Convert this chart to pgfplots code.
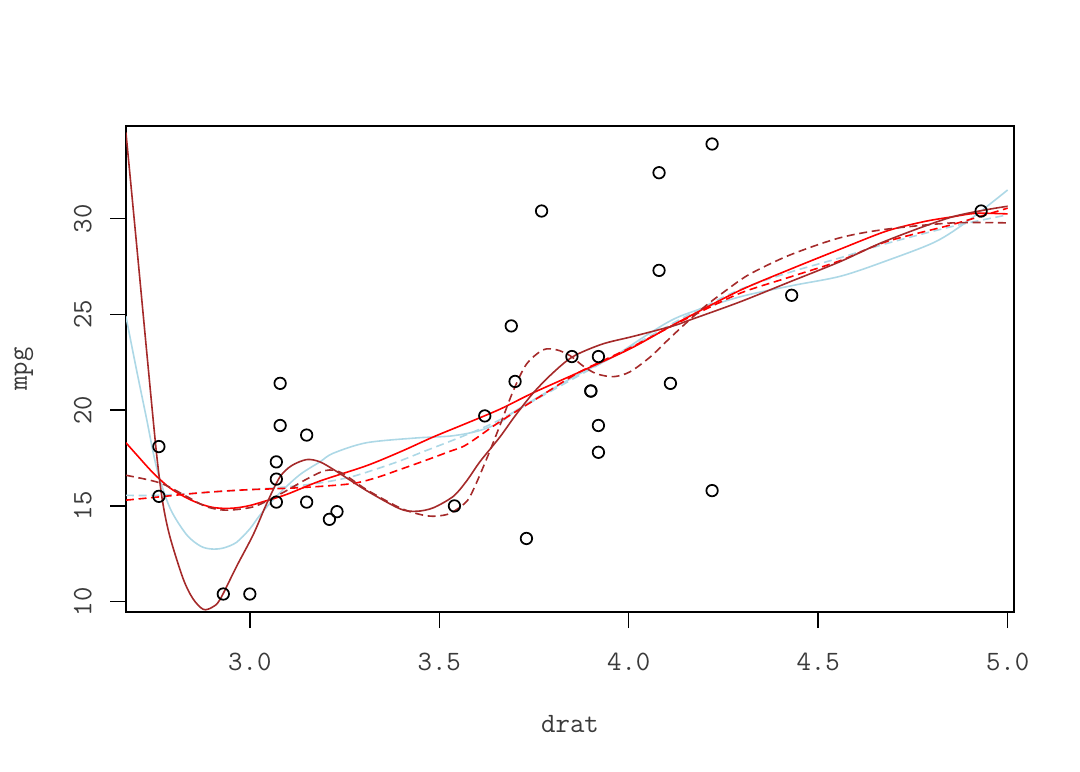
\documentclass[border=0pt]{standalone}
\usepackage{pgfplots}
\pgfplotsset{compat=1.18}
\definecolor{lblue}{HTML}{ADD8E6}
\definecolor{rbrown}{HTML}{A52A2A}
\definecolor{txt}{HTML}{3A3A3A}
\newcommand{\tfont}{\fontsize{21}{25}\selectfont\ttfamily}
\begin{document}
\begin{tikzpicture}
\begin{axis}[name=ax, at={(0,0)}, anchor=south west, scale only axis,
  width=666pt, height=364.5pt,
  xmin=2.6732, xmax=5.0168, ymin=9.46, ymax=34.84,
  axis line style={line width=1.1pt, black},
  xtick={3,3.5,4,4.5,5}, xticklabels={3.0,3.5,4.0,4.5,5.0},
  ytick={10,15,20,25,30}, yticklabels={10,15,20,25,30},
  tick align=outside, major tick length=12pt, tick pos=left,
  tick style={line width=1.1pt, black},
  ticklabel style={font=\tfont, text=txt},
  xticklabel style={anchor=base, yshift=-31.5pt},
  yticklabel style={xshift=-13.9pt, rotate=90, anchor=base},
  clip=true,
  every axis plot/.append style={line width=1.2pt},
]
% light blue solid
\addplot[lblue, smooth] coordinates {(2.673,24.9)(2.70,22.2)(2.727,19.6)(2.754,17.0)(2.789,14.9)(2.833,13.5)(2.87,12.9)(2.899,12.75)(2.93,12.8)(2.965,13.1)(3.0,13.8)(3.026,14.5)(3.07,15.5)(3.13,16.6)(3.185,17.3)(3.22,17.75)(3.308,18.3)(3.44,18.55)(3.53,18.65)(3.6,18.9)(3.66,19.35)(3.70,19.95)(3.78,20.9)(3.87,21.9)(3.96,22.8)(4.05,23.95)(4.135,24.9)(4.29,25.9)(4.43,26.5)(4.56,27.0)(4.68,27.8)(4.81,28.8)(4.90,29.95)(5.0,31.5)};
% light blue dashed
\addplot[lblue, smooth, dash pattern=on 6pt off 3.5pt] coordinates {(2.673,15.55)(2.75,15.55)(2.85,15.65)(2.92,15.75)(3.0,15.85)(3.1,16.0)(3.185,16.2)(3.264,16.5)(3.33,16.9)(3.396,17.35)(3.46,17.85)(3.528,18.37)(3.6,18.95)(3.66,19.5)(3.75,20.5)(3.85,21.6)(3.95,22.7)(4.05,23.8)(4.16,25.0)(4.293,26.3)(4.425,27.2)(4.557,27.95)(4.68,28.7)(4.855,29.6)(5.0,30.2)};
% red solid
\addplot[red, smooth] coordinates {(2.673,18.3)(2.70,17.7)(2.745,16.72)(2.789,15.94)(2.833,15.42)(2.87,15.1)(2.903,14.92)(2.935,14.87)(2.965,14.9)(3.0,15.02)(3.035,15.22)(3.097,15.6)(3.185,16.3)(3.308,17.1)(3.40,17.85)(3.484,18.6)(3.57,19.3)(3.66,20.05)(3.747,20.9)(3.871,22.0)(4.003,23.2)(4.108,24.35)(4.16,24.9)(4.293,26.25)(4.425,27.35)(4.557,28.4)(4.68,29.35)(4.78,29.85)(4.855,30.1)(4.917,30.28)(5.0,30.25)};
% red dashed
\addplot[red, smooth, dash pattern=on 6pt off 3.5pt] coordinates {(2.673,15.3)(2.75,15.45)(2.85,15.65)(2.92,15.76)(3.0,15.85)(3.13,15.95)(3.264,16.15)(3.33,16.45)(3.396,16.9)(3.46,17.35)(3.528,17.85)(3.572,18.2)(3.66,19.4)(3.765,20.7)(3.871,22.0)(4.003,23.25)(4.1,24.25)(4.16,24.85)(4.293,26.1)(4.425,26.95)(4.557,27.8)(4.68,28.8)(4.855,29.7)(5.0,30.55)};
% brown solid
\addplot[rbrown, smooth] coordinates {(2.673,34.5)(2.70,28.9)(2.73,22.6)(2.754,17.7)(2.77,15.2)(2.789,13.4)(2.824,11.2)(2.85,10.15)(2.877,9.6)(2.90,9.7)(2.921,10.1)(2.965,11.84)(3.009,13.5)(3.044,15.1)(3.079,16.5)(3.11,17.1)(3.15,17.42)(3.185,17.3)(3.229,16.8)(3.308,15.8)(3.396,14.85)(3.44,14.72)(3.484,14.9)(3.537,15.5)(3.572,16.3)(3.607,17.3)(3.66,18.6)(3.70,19.7)(3.748,20.9)(3.80,21.95)(3.853,22.8)(3.93,23.45)(4.011,23.85)(4.117,24.4)(4.16,24.7)(4.293,25.65)(4.425,26.7)(4.557,27.75)(4.68,28.85)(4.855,30.1)(5.0,30.65)};
% brown dashed
\addplot[rbrown, smooth, dash pattern=on 6pt off 3.5pt] coordinates {(2.673,16.6)(2.763,16.2)(2.833,15.5)(2.88,15.0)(2.921,14.8)(2.96,14.8)(3.009,14.95)(3.05,15.3)(3.097,15.8)(3.15,16.4)(3.2,16.85)(3.24,16.75)(3.308,15.85)(3.396,14.9)(3.45,14.55)(3.484,14.46)(3.52,14.55)(3.545,14.8)(3.575,15.3)(3.598,16.2)(3.63,17.7)(3.66,19.2)(3.695,21.0)(3.73,22.4)(3.774,23.15)(3.81,23.15)(3.845,22.85)(3.88,22.3)(3.915,21.9)(3.96,21.75)(4.003,22.0)(4.055,22.75)(4.10,23.6)(4.143,24.4)(4.2,25.4)(4.26,26.3)(4.319,27.1)(4.425,28.1)(4.557,29.0)(4.68,29.45)(4.855,29.78)(5.0,29.78)};
% points
\addplot[only marks, mark=o, mark size=4.3pt, black, mark options={line width=1.3pt}] coordinates {
(3.90,21.0)(3.90,21.0)(3.85,22.8)(3.08,21.4)(3.15,18.7)(2.76,18.1)(3.21,14.3)(3.69,24.4)
(3.92,22.8)(3.92,19.2)(3.92,17.8)(3.07,16.4)(3.07,17.3)(3.07,15.2)(2.93,10.4)(3.00,10.4)
(3.23,14.7)(4.08,32.4)(4.93,30.4)(4.22,33.9)(3.70,21.5)(2.76,15.5)(3.15,15.2)(3.73,13.3)
(3.08,19.2)(4.08,27.3)(4.43,26.0)(3.77,30.4)(4.22,15.8)(3.62,19.7)(3.54,15.0)(4.11,21.4)};
\end{axis}
\node[font=\tfont, text=txt, anchor=base, yshift=-90pt] at (ax.south) {drat};
\node[font=\tfont, text=txt, xshift=-74.25pt, rotate=90, anchor=base] at (ax.west) {mpg};
\pgfresetboundingbox
\useasboundingbox (-94.5pt,-119.25pt) rectangle (715.5pt,459pt);
\end{tikzpicture}
\end{document}
